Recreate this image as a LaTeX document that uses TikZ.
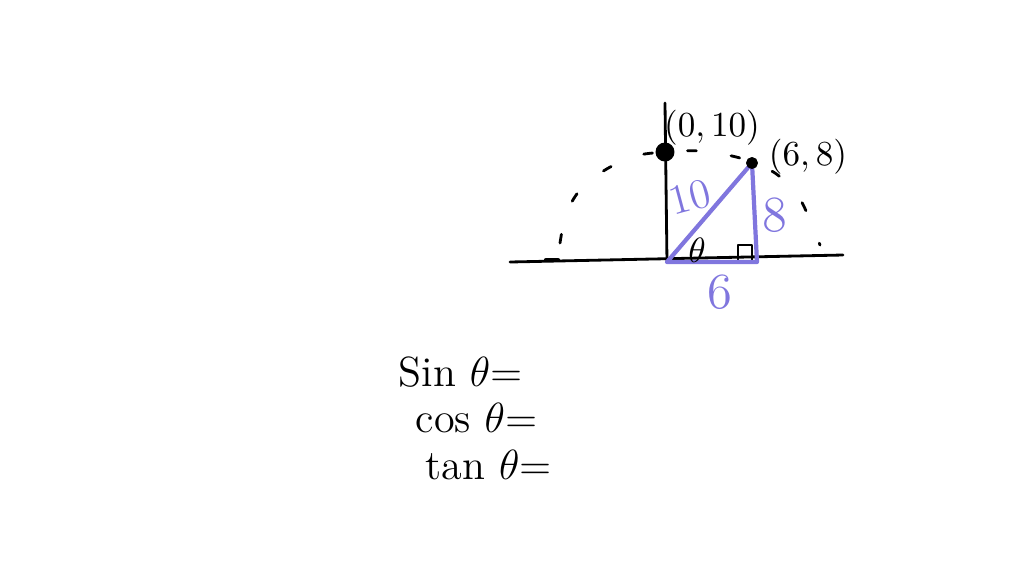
\documentclass[tikz,border=0pt]{standalone}
\usepackage{amsmath}
\usepackage{amssymb}
\definecolor{penblue}{RGB}{128,118,222}

\begin{document}
\begin{tikzpicture}[line cap=round, line join=round]
            \useasboundingbox (0,0) rectangle (10.24,5.76);
            \coordinate (O) at (6.67,3.14);
            \coordinate (P) at (7.52,4.13);
            \coordinate (Q) at (7.57,3.14);
            \coordinate (Y) at (6.65,4.24);
            \draw[thick] (5.10,3.14) -- (8.43,3.21);
            \draw[thick] (6.65,4.73) -- (O);
            \draw[very thick] (5.46,3.16) -- (5.58,3.16);
            \draw[thick, dash pattern=on 2.5pt off 10pt] plot[smooth] coordinates {(5.60,3.33) (5.66,3.62) (5.80,3.86) (6.05,4.06) (6.35,4.20) (6.65,4.24) (7.00,4.25) (7.40,4.18) (7.75,4.03) (7.98,3.80) (8.10,3.56) (8.20,3.31)};
            \draw[thick] (O) -- (P);
            \draw[thick] (7.38,3.15) -- (7.38,3.31) -- (7.52,3.31) -- (7.52,3.15);
            \draw[penblue, very thick] (O) -- (P) -- (Q) -- (O);
            \filldraw (Y) circle (2.5pt);
            \filldraw (P) circle (1.5pt);
            \node[inner sep=1pt] (th) at (6.97,3.26) {$\theta$};
            \node[inner sep=1pt, penblue, rotate=15] (hyp) at (6.90,3.79) {\large 10};
            \node[inner sep=1pt, penblue] (opp) at (7.75,3.61) {\Large 8};
            \node[inner sep=1pt, penblue] (adj) at (7.20,2.84) {\Large 6};
            \node[inner sep=1pt] (ylab) at (7.12,4.48) {$(0,10)$};
            \node[inner sep=1pt] (plab) at (8.08,4.19) {$(6,8)$};
            \node[anchor=west, inner sep=0pt] (sin) at (3.98,2.04) {\large Sin $\theta$=};
            \node[anchor=west, inner sep=0pt] (cos) at (4.15,1.58) {\large cos $\theta$=};
            \node[anchor=west, inner sep=0pt] (tan) at (4.25,1.11) {\large tan $\theta$=};
        \end{tikzpicture}
\end{document}
